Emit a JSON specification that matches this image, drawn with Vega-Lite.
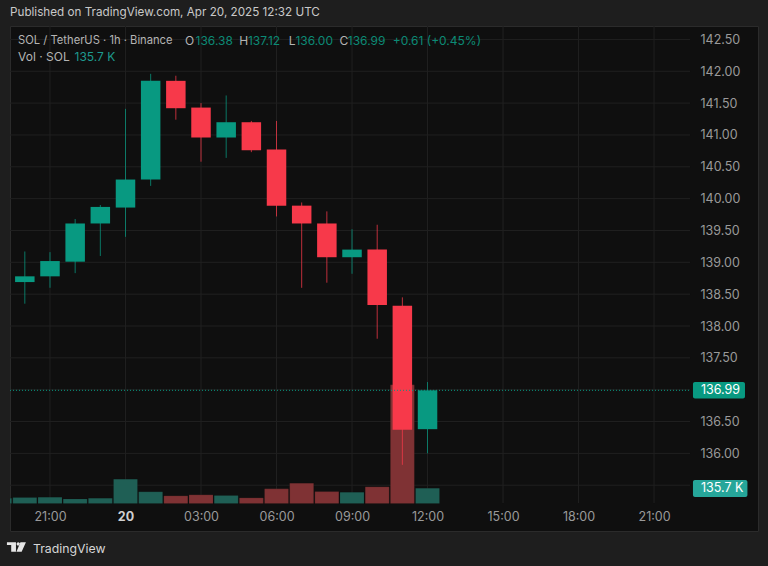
{"$schema":"https://vega.github.io/schema/vega-lite/v6.json","width":748,"height":505,"autosize":"none","padding":{"left":10,"top":26,"right":10,"bottom":35},"background":"#1e1e1e",
"config":{"view":{"fill":"#0f0f0f","stroke":"#2b2b2b"},"text":{"font":"Inter"},"axis":{"labelFont":"Inter"},"scale":{"continuousPadding":0}},
"title":{"text":"Published on TradingView.com, Apr 20, 2025 12:32 UTC","anchor":"start","frame":"group","offset":7,"color":"#c9c9c9","fontSize":11.7,"fontWeight":"normal","font":"Inter"},
"datasets":{"candles":[
{"t":"2025-04-19T19:00:00","open":138.7,"high":139,"low":138.5,"close":138.75,"vol":47,"dir":"up"},
{"t":"2025-04-19T20:00:00","open":138.69,"high":139.17,"low":138.35,"close":138.78,"vol":53,"dir":"up"},
{"t":"2025-04-19T21:00:00","open":138.78,"high":139.16,"low":138.6,"close":139.02,"vol":56,"dir":"up"},
{"t":"2025-04-19T22:00:00","open":139.01,"high":139.68,"low":138.83,"close":139.61,"vol":41,"dir":"up"},
{"t":"2025-04-19T23:00:00","open":139.61,"high":139.9,"low":139.1,"close":139.87,"vol":47,"dir":"up"},
{"t":"2025-04-20T00:00:00","open":139.86,"high":141.41,"low":139.4,"close":140.3,"vol":216,"dir":"up"},
{"t":"2025-04-20T01:00:00","open":140.3,"high":141.96,"low":140.2,"close":141.85,"vol":104,"dir":"up"},
{"t":"2025-04-20T02:00:00","open":141.85,"high":141.93,"low":141.24,"close":141.42,"vol":68,"dir":"down"},
{"t":"2025-04-20T03:00:00","open":141.43,"high":141.5,"low":140.58,"close":140.96,"vol":77,"dir":"down"},
{"t":"2025-04-20T04:00:00","open":140.96,"high":141.62,"low":140.64,"close":141.2,"vol":71,"dir":"up"},
{"t":"2025-04-20T05:00:00","open":141.2,"high":141.22,"low":140.73,"close":140.76,"vol":50,"dir":"down"},
{"t":"2025-04-20T06:00:00","open":140.77,"high":141.22,"low":139.72,"close":139.89,"vol":130,"dir":"down"},
{"t":"2025-04-20T07:00:00","open":139.89,"high":139.94,"low":138.6,"close":139.61,"vol":180,"dir":"down"},
{"t":"2025-04-20T08:00:00","open":139.61,"high":139.8,"low":138.68,"close":139.08,"vol":106,"dir":"down"},
{"t":"2025-04-20T09:00:00","open":139.08,"high":139.52,"low":138.82,"close":139.2,"vol":100,"dir":"up"},
{"t":"2025-04-20T10:00:00","open":139.2,"high":139.59,"low":137.8,"close":138.33,"vol":148,"dir":"down"},
{"t":"2025-04-20T11:00:00","open":138.32,"high":138.45,"low":135.82,"close":136.37,"vol":1053,"dir":"down"},
{"t":"2025-04-20T12:00:00","open":136.38,"high":137.12,"low":136.0,"close":136.99,"vol":135.7,"dir":"up"}],
"gridT":[{"t":"2025-04-19T21:00:00"},{"t":"2025-04-20T00:00:00"},{"t":"2025-04-20T03:00:00"},{"t":"2025-04-20T06:00:00"},{"t":"2025-04-20T09:00:00"},{"t":"2025-04-20T12:00:00"},{"t":"2025-04-20T15:00:00"},{"t":"2025-04-20T18:00:00"},{"t":"2025-04-20T21:00:00"}],
"gridP":[{"p":135.5},{"p":136},{"p":136.5},{"p":137},{"p":137.5},{"p":138},{"p":138.5},{"p":139},{"p":139.5},{"p":140},{"p":140.5},{"p":141},{"p":141.5},{"p":142},{"p":142.5}]},
"layer":[
{"layer":[
{"data":{"name":"gridT"},"mark":{"type":"rule","color":"#202020","strokeWidth":1},"encoding":{"x":{"field":"t","type":"temporal","scale":{"domain":[{"year":2025,"month":4,"date":19,"hours":19,"minutes":24,"seconds":40},{"year":2025,"month":4,"date":21,"hours":1,"minutes":7,"seconds":48}]}},"y":{"datum":142.711,"type":"quantitative","scale":{"domain":[134.781,142.711]},"axis":null},"y2":{"datum":135.22}}},
{"data":{"name":"gridP"},"mark":{"type":"rule","color":"#202020","strokeWidth":1},"encoding":{"y":{"field":"p","type":"quantitative","scale":{"domain":[134.781,142.711]},"axis":null},"x":{"datum":{"year":2025,"month":4,"date":19,"hours":19,"minutes":24,"seconds":40},"type":"temporal","scale":{"domain":[{"year":2025,"month":4,"date":19,"hours":19,"minutes":24,"seconds":40},{"year":2025,"month":4,"date":21,"hours":1,"minutes":7,"seconds":48}]}},"x2":{"datum":{"year":2025,"month":4,"date":20,"hours":22,"minutes":25,"seconds":48}}}}
]},
{"data":{"name":"candles"},"mark":{"type":"bar","width":24,"clip":true,"stroke":"#0f0f0f","strokeOpacity":0.25,"strokeWidth":0.5},"encoding":{"x":{"field":"t","type":"temporal","scale":{"domain":[{"year":2025,"month":4,"date":19,"hours":19,"minutes":24,"seconds":40},{"year":2025,"month":4,"date":21,"hours":1,"minutes":7,"seconds":48}]}},"y":{"field":"vol","type":"quantitative","stack":null,"scale":{"domain":[-244,4237]},"axis":null},"color":{"field":"dir","type":"nominal","scale":{"domain":["up","down"],"range":["#1f5f55","#7f3234"]},"legend":null}}},
{"layer":[
{"data":{"name":"candles"},"mark":{"type":"rule","strokeWidth":1,"opacity":0.75,"clip":true},"encoding":{"x":{"field":"t","type":"temporal","scale":{"domain":[{"year":2025,"month":4,"date":19,"hours":19,"minutes":24,"seconds":40},{"year":2025,"month":4,"date":21,"hours":1,"minutes":7,"seconds":48}]},"axis":{"orient":"bottom","offset":-28,"title":null,"domain":false,"ticks":false,"labelPadding":7,"labelFontSize":12.5,"labelOverlap":false,"labelFlush":false,"values":[{"year":2025,"month":4,"date":19,"hours":21},{"year":2025,"month":4,"date":20,"hours":0},{"year":2025,"month":4,"date":20,"hours":3},{"year":2025,"month":4,"date":20,"hours":6},{"year":2025,"month":4,"date":20,"hours":9},{"year":2025,"month":4,"date":20,"hours":12},{"year":2025,"month":4,"date":20,"hours":15},{"year":2025,"month":4,"date":20,"hours":18},{"year":2025,"month":4,"date":20,"hours":21}],"labelExpr":"hours(datum.value)===0?'20':timeFormat(datum.value,'%H:%M')","labelColor":{"expr":"hours(datum.value)===0?'#d0d0d0':'#9a9a9a'"},"labelFontWeight":{"expr":"hours(datum.value)===0?'bold':'normal'"},"grid":false}},"y":{"field":"low","type":"quantitative","scale":{"domain":[134.781,142.711]},"axis":{"orient":"right","offset":-68,"title":null,"domain":false,"ticks":false,"grid":false,"labelPadding":10,"labelFontSize":12.5,"labelColor":"#9a9a9a","format":".2f","labelOverlap":false,"values":[136,136.5,137.5,138,138.5,139,139.5,140,140.5,141,141.5,142,142.5]}},"y2":{"field":"high"},"color":{"field":"dir","type":"nominal","scale":{"domain":["up","down"],"range":["#089981","#f7394a"]},"legend":null}}},
{"data":{"name":"candles"},"mark":{"type":"bar","width":19.5,"clip":true},"encoding":{"x":{"field":"t","type":"temporal","scale":{"domain":[{"year":2025,"month":4,"date":19,"hours":19,"minutes":24,"seconds":40},{"year":2025,"month":4,"date":21,"hours":1,"minutes":7,"seconds":48}]}},"y":{"field":"open","type":"quantitative","stack":null,"scale":{"domain":[134.781,142.711]}},"y2":{"field":"close"},"color":{"field":"dir","type":"nominal"}}},
{"data":{"values":[{"price":136.99}]},"mark":{"type":"rule","color":"#089981","strokeDash":[1,2],"strokeWidth":1},"encoding":{"y":{"field":"price","type":"quantitative","scale":{"domain":[134.781,142.711]}},"x":{"datum":{"year":2025,"month":4,"date":19,"hours":19,"minutes":24,"seconds":40},"type":"temporal","scale":{"domain":[{"year":2025,"month":4,"date":19,"hours":19,"minutes":24,"seconds":40},{"year":2025,"month":4,"date":21,"hours":1,"minutes":7,"seconds":48}]}},"x2":{"datum":{"year":2025,"month":4,"date":20,"hours":22,"minutes":25,"seconds":48}}}},
{"data":{"values":[{"label":"136.99"}]},"mark":{"type":"rect","color":"#089981","cornerRadius":2},"encoding":{"x":{"datum":{"year":2025,"month":4,"date":20,"hours":22,"minutes":32,"seconds":46},"type":"temporal","scale":{"domain":[{"year":2025,"month":4,"date":19,"hours":19,"minutes":24,"seconds":40},{"year":2025,"month":4,"date":21,"hours":1,"minutes":7,"seconds":48}]}},"x2":{"datum":{"year":2025,"month":4,"date":21,"hours":0,"minutes":36,"seconds":47}},"y":{"datum":137.121,"type":"quantitative","scale":{"domain":[134.781,142.711]}},"y2":{"datum":136.862}}},
{"data":{"values":[{"label":"135.7 K"}]},"mark":{"type":"rect","color":"#26a69a","cornerRadius":2},"encoding":{"x":{"datum":{"year":2025,"month":4,"date":20,"hours":22,"minutes":32,"seconds":46},"type":"temporal","scale":{"domain":[{"year":2025,"month":4,"date":19,"hours":19,"minutes":24,"seconds":40},{"year":2025,"month":4,"date":21,"hours":1,"minutes":7,"seconds":48}]}},"x2":{"datum":{"year":2025,"month":4,"date":21,"hours":0,"minutes":42,"seconds":36}},"y":{"datum":135.582,"type":"quantitative","scale":{"domain":[134.781,142.711]}},"y2":{"datum":135.315}}},
{"data":{"values":[{"label":"136.99"}]},"mark":{"type":"text","align":"left","baseline":"middle","fontSize":12.5,"color":"#ffffff"},"encoding":{"text":{"field":"label"},"x":{"datum":{"year":2025,"month":4,"date":20,"hours":22,"minutes":51,"seconds":50},"type":"temporal","scale":{"domain":[{"year":2025,"month":4,"date":19,"hours":19,"minutes":24,"seconds":40},{"year":2025,"month":4,"date":21,"hours":1,"minutes":7,"seconds":48}]}},"y":{"datum":136.99,"type":"quantitative","scale":{"domain":[134.781,142.711]}}}},
{"data":{"values":[{"label":"135.7 K"}]},"mark":{"type":"text","align":"left","baseline":"middle","fontSize":12.5,"color":"#ffffff"},"encoding":{"text":{"field":"label"},"x":{"datum":{"year":2025,"month":4,"date":20,"hours":22,"minutes":51,"seconds":50},"type":"temporal","scale":{"domain":[{"year":2025,"month":4,"date":19,"hours":19,"minutes":24,"seconds":40},{"year":2025,"month":4,"date":21,"hours":1,"minutes":7,"seconds":48}]}},"y":{"datum":135.45,"type":"quantitative","scale":{"domain":[134.781,142.711]}}}},
{"data":{"values":[{"label":"SOL / TetherUS · 1h · Binance"}]},"mark":{"type":"text","align":"left","baseline":"middle","fontSize":11.2,"color":"#b4b4b4"},"encoding":{"text":{"field":"label"},"x":{"datum":{"year":2025,"month":4,"date":19,"hours":19,"minutes":44},"type":"temporal","scale":{"domain":[{"year":2025,"month":4,"date":19,"hours":19,"minutes":24,"seconds":40},{"year":2025,"month":4,"date":21,"hours":1,"minutes":7,"seconds":48}]}},"y":{"datum":142.468,"type":"quantitative","scale":{"domain":[134.781,142.711]}}}},
{"data":{"values":[{"label":"O"}]},"mark":{"type":"text","align":"left","baseline":"middle","fontSize":12,"color":"#b4b4b4"},"encoding":{"text":{"field":"label"},"x":{"datum":{"year":2025,"month":4,"date":20,"hours":2,"minutes":21,"seconds":50},"type":"temporal","scale":{"domain":[{"year":2025,"month":4,"date":19,"hours":19,"minutes":24,"seconds":40},{"year":2025,"month":4,"date":21,"hours":1,"minutes":7,"seconds":48}]}},"y":{"datum":142.468,"type":"quantitative","scale":{"domain":[134.781,142.711]}}}},
{"data":{"values":[{"label":"136.38"}]},"mark":{"type":"text","align":"left","baseline":"middle","fontSize":12,"color":"#0c8a75"},"encoding":{"text":{"field":"label"},"x":{"datum":{"year":2025,"month":4,"date":20,"hours":2,"minutes":47},"type":"temporal","scale":{"domain":[{"year":2025,"month":4,"date":19,"hours":19,"minutes":24,"seconds":40},{"year":2025,"month":4,"date":21,"hours":1,"minutes":7,"seconds":48}]}},"y":{"datum":142.468,"type":"quantitative","scale":{"domain":[134.781,142.711]}}}},
{"data":{"values":[{"label":"H"}]},"mark":{"type":"text","align":"left","baseline":"middle","fontSize":12,"color":"#b4b4b4"},"encoding":{"text":{"field":"label"},"x":{"datum":{"year":2025,"month":4,"date":20,"hours":4,"minutes":31},"type":"temporal","scale":{"domain":[{"year":2025,"month":4,"date":19,"hours":19,"minutes":24,"seconds":40},{"year":2025,"month":4,"date":21,"hours":1,"minutes":7,"seconds":48}]}},"y":{"datum":142.468,"type":"quantitative","scale":{"domain":[134.781,142.711]}}}},
{"data":{"values":[{"label":"137.12"}]},"mark":{"type":"text","align":"left","baseline":"middle","fontSize":12,"color":"#0c8a75"},"encoding":{"text":{"field":"label"},"x":{"datum":{"year":2025,"month":4,"date":20,"hours":4,"minutes":52},"type":"temporal","scale":{"domain":[{"year":2025,"month":4,"date":19,"hours":19,"minutes":24,"seconds":40},{"year":2025,"month":4,"date":21,"hours":1,"minutes":7,"seconds":48}]}},"y":{"datum":142.468,"type":"quantitative","scale":{"domain":[134.781,142.711]}}}},
{"data":{"values":[{"label":"L"}]},"mark":{"type":"text","align":"left","baseline":"middle","fontSize":12,"color":"#b4b4b4"},"encoding":{"text":{"field":"label"},"x":{"datum":{"year":2025,"month":4,"date":20,"hours":6,"minutes":29},"type":"temporal","scale":{"domain":[{"year":2025,"month":4,"date":19,"hours":19,"minutes":24,"seconds":40},{"year":2025,"month":4,"date":21,"hours":1,"minutes":7,"seconds":48}]}},"y":{"datum":142.468,"type":"quantitative","scale":{"domain":[134.781,142.711]}}}},
{"data":{"values":[{"label":"136.00"}]},"mark":{"type":"text","align":"left","baseline":"middle","fontSize":12,"color":"#0c8a75"},"encoding":{"text":{"field":"label"},"x":{"datum":{"year":2025,"month":4,"date":20,"hours":6,"minutes":45},"type":"temporal","scale":{"domain":[{"year":2025,"month":4,"date":19,"hours":19,"minutes":24,"seconds":40},{"year":2025,"month":4,"date":21,"hours":1,"minutes":7,"seconds":48}]}},"y":{"datum":142.468,"type":"quantitative","scale":{"domain":[134.781,142.711]}}}},
{"data":{"values":[{"label":"C"}]},"mark":{"type":"text","align":"left","baseline":"middle","fontSize":12,"color":"#b4b4b4"},"encoding":{"text":{"field":"label"},"x":{"datum":{"year":2025,"month":4,"date":20,"hours":8,"minutes":30},"type":"temporal","scale":{"domain":[{"year":2025,"month":4,"date":19,"hours":19,"minutes":24,"seconds":40},{"year":2025,"month":4,"date":21,"hours":1,"minutes":7,"seconds":48}]}},"y":{"datum":142.468,"type":"quantitative","scale":{"domain":[134.781,142.711]}}}},
{"data":{"values":[{"label":"136.99"}]},"mark":{"type":"text","align":"left","baseline":"middle","fontSize":12,"color":"#0c8a75"},"encoding":{"text":{"field":"label"},"x":{"datum":{"year":2025,"month":4,"date":20,"hours":8,"minutes":50},"type":"temporal","scale":{"domain":[{"year":2025,"month":4,"date":19,"hours":19,"minutes":24,"seconds":40},{"year":2025,"month":4,"date":21,"hours":1,"minutes":7,"seconds":48}]}},"y":{"datum":142.468,"type":"quantitative","scale":{"domain":[134.781,142.711]}}}},
{"data":{"values":[{"label":"+0.61 (+0.45%)"}]},"mark":{"type":"text","align":"left","baseline":"middle","fontSize":12,"color":"#0c8a75"},"encoding":{"text":{"field":"label"},"x":{"datum":{"year":2025,"month":4,"date":20,"hours":10,"minutes":37},"type":"temporal","scale":{"domain":[{"year":2025,"month":4,"date":19,"hours":19,"minutes":24,"seconds":40},{"year":2025,"month":4,"date":21,"hours":1,"minutes":7,"seconds":48}]}},"y":{"datum":142.468,"type":"quantitative","scale":{"domain":[134.781,142.711]}}}},
{"data":{"values":[{"label":"Vol · SOL"}]},"mark":{"type":"text","align":"left","baseline":"middle","fontSize":12,"color":"#b4b4b4"},"encoding":{"text":{"field":"label"},"x":{"datum":{"year":2025,"month":4,"date":19,"hours":19,"minutes":44},"type":"temporal","scale":{"domain":[{"year":2025,"month":4,"date":19,"hours":19,"minutes":24,"seconds":40},{"year":2025,"month":4,"date":21,"hours":1,"minutes":7,"seconds":48}]}},"y":{"datum":142.217,"type":"quantitative","scale":{"domain":[134.781,142.711]}}}},
{"data":{"values":[{"label":"135.7 K"}]},"mark":{"type":"text","align":"left","baseline":"middle","fontSize":12,"color":"#1e9a8e"},"encoding":{"text":{"field":"label"},"x":{"datum":{"year":2025,"month":4,"date":19,"hours":21,"minutes":58,"seconds":30},"type":"temporal","scale":{"domain":[{"year":2025,"month":4,"date":19,"hours":19,"minutes":24,"seconds":40},{"year":2025,"month":4,"date":21,"hours":1,"minutes":7,"seconds":48}]}},"y":{"datum":142.217,"type":"quantitative","scale":{"domain":[134.781,142.711]}}}},
{"data":{"values":[{"label":"TradingView"}]},"mark":{"type":"text","align":"left","baseline":"middle","fontSize":12.3,"color":"#d6d6d6"},"encoding":{"text":{"field":"label"},"x":{"datum":{"year":2025,"month":4,"date":19,"hours":20,"minutes":19,"seconds":30},"type":"temporal","scale":{"domain":[{"year":2025,"month":4,"date":19,"hours":19,"minutes":24,"seconds":40},{"year":2025,"month":4,"date":21,"hours":1,"minutes":7,"seconds":48}]}},"y":{"datum":134.5,"type":"quantitative","scale":{"domain":[134.781,142.711]}}}},
{"data":{"values":[{"label":"logo"}]},"mark":{"type":"point","filled":true,"opacity":1,"size":361,"color":"#e6e6e6","shape":"M-1 -.49 H-.05 V.49 H-.55 V-.2 H-1Z M.02 -.32 a.17 .17 0 1 0 .34 0 a.17 .17 0 1 0 -.34 0Z M.42 -.49 H1 L.55 .49 H0 Z"},"encoding":{"x":{"datum":{"year":2025,"month":4,"date":19,"hours":19,"minutes":40},"type":"temporal","scale":{"domain":[{"year":2025,"month":4,"date":19,"hours":19,"minutes":24,"seconds":40},{"year":2025,"month":4,"date":21,"hours":1,"minutes":7,"seconds":48}]}},"y":{"datum":134.53,"type":"quantitative","scale":{"domain":[134.781,142.711]}}}}
]}
],
"resolve":{"scale":{"y":"independent","color":"independent"},"axis":{"y":"independent"}}}
